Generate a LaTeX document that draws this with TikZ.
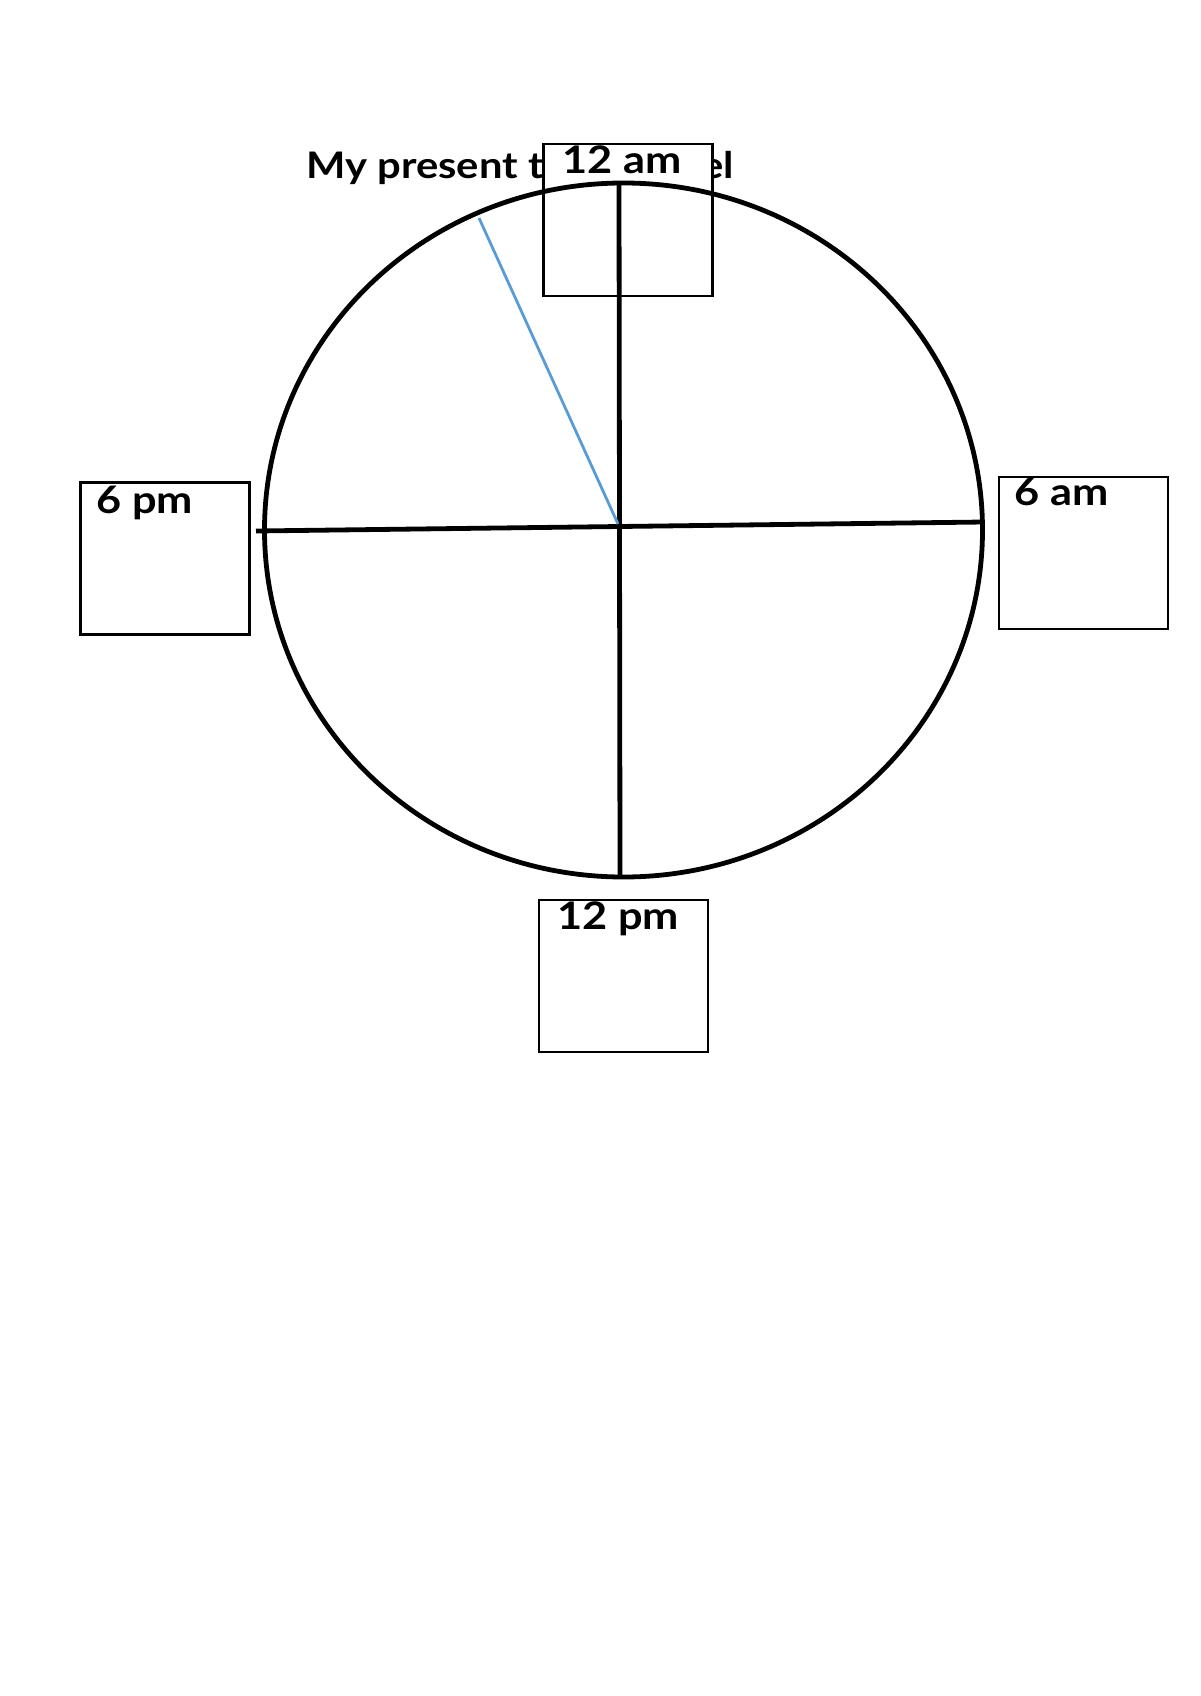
\documentclass[tikz,border=0pt]{standalone}
\usepackage{fontspec}
\setmainfont{Lato}[FakeStretch=1.14]
\usepackage{tikz}
\usetikzlibrary{positioning}

\tikzset{
    slot/.style={draw, line width=1.3pt, fill=white, inner sep=0pt,
        minimum width=84.5pt, minimum height=76pt},
    tag/.style={anchor=base west, inner sep=0pt,
        font=\fontsize{19}{23}\selectfont\bfseries},
    rim/.style={line width=2.4pt},
    hand/.style={line width=1.4pt, color=handblue}
}
\definecolor{handblue}{RGB}{91,155,213}

\begin{document}
\begin{tikzpicture}[x=0.5pt,y=-0.5pt]
            \useasboundingbox (0,0) rectangle (1200,1696);
            % title, partly hidden by the top box
            \node[tag, font=\fontsize{18.3}{22}\selectfont\bfseries] (title) at (306,179) {My present time wheel};
            % boxes for the four quarters
            \node[slot] (noon0) at (628,220) {};
            \node[slot] (eve) at (165,558.5) {};
            \node[slot] (morn) at (1083.5,553) {};
            \node[slot] (noon) at (623.5,976) {};
            % the wheel
            \draw[rim] (623.5,530) ellipse [x radius=359, y radius=347];
            \coordinate (top) at (619,184);
            \coordinate (bottom) at (620,877);
            \coordinate (left) at (256,531);
            \coordinate (right) at (984,522);
            \coordinate (hub) at (618,524);
            \coordinate (tip) at (479,218);
            \draw[rim] (top) -- (bottom);
            \draw[rim] (left) -- (right);
            \draw[hand] (tip) -- (hub);
            % quarter labels
            \node[tag] (l12am) at (562,174) {12 am};
            \node[tag] (l6pm) at (96,513) {6 pm};
            \node[tag] (l6am) at (1014,505) {6 am};
            \node[tag] (l12pm) at (557,929) {12 pm};
        \end{tikzpicture}
\end{document}
